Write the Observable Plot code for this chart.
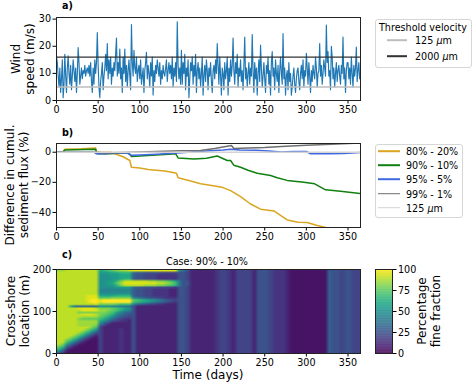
<!DOCTYPE html>
<html><head><meta charset="utf-8">
<script src="https://cdn.jsdelivr.net/npm/d3@7"></script>
<script src="https://cdn.jsdelivr.net/npm/@observablehq/plot@0.6"></script>
<style>
html,body{margin:0;padding:0;background:#fff;}
#root{position:relative;width:474px;height:383px;overflow:hidden;font-family:"DejaVu Sans",sans-serif;color:#000;}
#root svg{position:absolute;overflow:visible;}
.rot{position:absolute;transform:translate(-50%,-50%) rotate(-90deg);text-align:center;white-space:nowrap;font-size:12px;line-height:14px;}
.lg{position:absolute;border:1px solid #d6d6d6;border-radius:3px;background:#fff;box-sizing:border-box;}
.lt{position:absolute;font-size:9.6px;white-space:nowrap;transform:translateY(-50%);}
.ll{position:absolute;height:1.6px;transform:translateY(-50%);}
.ctr{position:absolute;transform:translate(-50%,-50%);white-space:nowrap;}
.pl{position:absolute;font-weight:bold;font-size:9.6px;transform:translateY(-50%);}
</style></head><body><div id="root"></div><script>
// ---------- DATA ----------
const dayTicks = [0, 50, 100, 150, 200, 250, 300, 350];
const thresholdNames = ["125 μm", "2000 μm"];
const thresholds = [5, 16];
// daily wind speed (m/s), day 0..364
const windSpeed = [
16,14,9,5,12,3,8,15,1,6,
17,9,3,12,16.5,10,6,13,4,9,
15,11,7,12,3,10,19.5,14,6,9,
12,8,11,10,13,9,11,12,10,13,
9,14,7,3,12,6,15,10,14,25,
13,5,1,7,10,14,4,9,12,17,
11,21,8,15,10,16,6,12,9,14,
11,17,23,9,14,10,19,8,12,3,
16,10,19,7,13,5,11,15,9,4,
28,14,9,18.5,12,10,16,7,11,13,
8,15,6,9,12,3,11,14,17.8,8,
13,10,5,14,9,16,2,11,7,13,
10,15,12,9,14,6,11,8,13,10,
9,12,15,7,11,14,10,13,8,16,
5,12,9,14,7,29,13,8,12,6,
18.5,6,14,10,17,4,12,9,15,1,
8,14,11,16,6,13,9,17,3,11,
14,8,12,5,10,16,2,9,13,7,
15,11,4,12,9,14,7,3,11,13,
8,15,10,21,13,6,16,9,2,12,
10,4,14,8,11,16,2,12,7,15,
9,13,23,11,6,14,10,17,5,12,
9,15,7,11,4,13,23.4,8,12,5,
10,14,6,12,9,24.3,11,3,14,8,
12,2,10,15,7,20.4,12,5,9,14,
8,3,13,10,16,6,11,2,14,18,
9,12,4,15,10,7,13,3,11,16,
10,6,24.7,8,12,2,9,11,4,14,
7,10,2,5,9,12,6,3,8,11,
12,7,4,10,13,8,15,5,11,9,
17.4,12,6,14,9,3,11,7,13,10,
8,16,12,5,10,11,21,9,13,6,
10,15,12,9,27.8,14,18,9,11,4,
20,16,8,12,5,10,14,7,11,13,
9,6,13,10,23.4,8,12,3,11,14,
14,8,12,6,16,10,5,13,9,12,
19.7,7,11,14,8
];
// difference in cumulative sediment flux (%), [day, value]
const flux8020 = [[0,0],[8,0.5],[10,2],[30,2.3],[47,2.8],[48,0.3],[50,0],[65,0],[70,-1],[80,-3],[88,-5.5],[90,-10],[100,-10.5],[110,-11.5],[120,-12],[130,-12.5],[140,-13.5],[144,-14],[146,-17],[160,-19],[173,-21],[190,-22.5],[200,-23.5],[209,-25.5],[221,-29.5],[233,-34.4],[245,-37.8],[261,-39],[269,-42],[277,-45],[290,-46.5],[301,-46.7],[312,-48.5],[323,-50],[335,-52]];
const flux9010 = [[0,0],[8,0.3],[10,1.5],[47,2],[48,-0.5],[50,-1],[65,-1],[75,-0.5],[85,-0.5],[88,-1.2],[90,-2.9],[100,-2.5],[115,-2],[130,-1.5],[143,-1],[146,-3.8],[165,-4.5],[180,-4],[193,-2.5],[197,-3.5],[205,-5.5],[209,-5.5],[213,-8.7],[221,-10],[230,-12],[241,-14],[257,-15.5],[265,-17],[277,-18.7],[297,-20],[310,-21],[323,-25],[341,-26],[365,-27.5]];
const flux955 = [[0,0],[45,0],[48,-1],[60,-1],[65,-0.5],[85,-0.5],[88,-1.5],[90,-2],[100,-1.8],[120,-1.3],[145,-0.5],[170,0.5],[200,1.5],[209,2],[220,1.5],[240,1.3],[255,0.8],[270,0.2],[285,0.5],[300,0.5],[305,-1],[330,-1],[345,-0.8],[365,-0.2]];
const flux991 = [[0,0],[50,0],[55,-0.5],[90,0],[120,0.5],[150,1],[173,1.1],[190,2.5],[200,3.5],[210,4.5],[213,2.5],[230,2.8],[250,3.1],[270,3.8],[300,4.7],[330,5.3],[365,6.2]];
const flux125 = [[0,0],[365,0]];
const fluxNames = ["80% - 20%", "90% - 10%", "95% - 5%", "99% - 1%", "125 μm"];
// percentage fine fraction: 40 rows (200 m -> 0 m, 5 m each) x 73 cols (5 days each)
// letter code: a=0, b=5, ... u=100
const heatRows = [
["rrssssssss","mnopqrrs","ttttttttttt","khfccccccdeedceeeecfffedddcbbbbbbbbbgffeffee"],
["ssssssssss","lllmmnnn","hggffffeeee","ffeccccccdeedceeeecfffedddcbbbbbbbbbgffeffee"],
["ssssssssss","kklllmmm","gffeeeddddd","ffeccccccdeedceeeecfffedddcbbbbbbbbbgffeffee"],
["ssssssssss","kkkllmmm","gffeeeddddd","ffeccccccdeedceeeecfffedddcbbbbbbbbbgffeffee"],
["ssssssssss","kkkllmnn","gffeeeddddd","ffeccccccdeedceeeecfffedddcbbbbbbbbbgffeffee"],
["ssssssssss","kkllnqss","ssssrrqqpom","iffccccccdeedceeeecfffedddcbbbbbbbbbgffeffee"],
["ssssssssss","kklmprtt","ttttttssrqo","iffccccccdeedceeeecfffedddcbbbbbbbbbgffeffee"],
["ssssssssss","kkllnqss","sssrrrqqpon","iffccccccdeedceeeecfffedddcbbbbbbbbbgffeffee"],
["ssssssssss","kkkkllll","hggfffeeeed","ffeccccccdeedceeeecfffedddcbbbbbbbbbgffeffee"],
["ssssssssss","jjjjjjjj","gffeeddddcc","ffeccccccdeedceeeecfffedddcbbbbbbbbbgffeffee"],
["ssssssssss","jjjjjjjj","gffeeddddcc","ffeccccccdeedceeeecfffedddcbbbbbbbbbgffeffee"],
["ssssssssss","kkkkkkkk","gffeeddddcc","ffeccccccdeedceeeecfffedddcbbbbbbbbbgffeffee"],
["sssssssttt","mmmmnnnn","gffeeddddcc","ffeccccccdeedceeeecfffedddcbbbbbbbbbgffeffee"],
["sssssssttt","pppqqqqq","jihgffeeddd","ffeccccccdeedceeeecfffedddcbbbbbbbbbgffeffee"],
["ssssssstuu","tuuuuuuu","ponmlkjhgfe","ffeccccccdeedceeeecfffedddcbbbbbbbbbgffeffee"],
["ssssssstuu","tuuuuuuu","onmlkihgfed","ffeccccccdeedceeeecfffedddcbbbbbbbbbgffeffee"],
["ssssssssst","qqqqpooo","jhgfeeddccc","ffeccccccdeedceeeecfffedddcbbbbbbbbbgffeffee"],
["sssmhhhhhh","kkkjjiih","fcccccccccc","ffeccccccdeedceeeecfffedddcbbbbbbbbbgffeffee"],
["ssssstttts","qqqponlk","fcccccccccc","ffeccccccdeedceeeecfffedddcbbbbbbbbbgffeffee"],
["sssssstttt","rrqpomkj","fcccccccccc","ffeccccccdeedceeeecfffedddcbbbbbbbbbgffeffee"],
["sssssqqqqq","qqpoljhg","fcccccccccc","ffeccccccdeedceeeecfffedddcbbbbbbbbbgffeffee"],
["ssssssttts","qpomjhgf","fcccccccccc","ffeccccccdeedceeeecfffedddcbbbbbbbbbgffeffee"],
["ssssssrrrr","pomkhgfe","fcccccccccc","ffeccccccdeedceeeecfffedddcbbbbbbbbbgffeffee"],
["sssssqpppp","omkhfedd","fcccccccccc","ffeccccccdeedceeeecfffedddcbbbbbbbbbgffeffee"],
["sssssrrrrr","mkhfeddc","fcccccccccc","ffeccccccdeedceeeecfffedddcbbbbbbbbbgffeffee"],
["sssssrrrrr","kgeccccc","fcccccccccc","ffeccccccdeedceeeecfffedddcbbbbbbbbbgffeffee"],
["sssssrrrrq","hecccccc","fcccccccccc","ffeccccccdeedceeeecfffedddcbbbbbbbbbgffeffee"],
["ssssssssqo","eccccccc","fcccccccccc","ffeccccccdeedceeeecfffedddcbbbbbbbbbgffeffee"],
["sssssssqol","eccccdcc","fcccccccccc","ffeccccccdeedceeeecfffedddcbbbbbbbbbgffeffee"],
["ssssssqolh","eccccdcc","fcccccccccc","ffeccccccdeedceeeecfffedddcbbbbbbbbbgffeffee"],
["sssssqolhe","eccccdcc","fcccccccccc","ffeccccccdeedceeeecfffedddcbbbbbbbbbgffeffee"],
["ssssqolhec","eccccdcc","fcccccccccc","ffeccccccdeedceeeecfffedddcbbbbbbbbbgffeffee"],
["sssqolhecb","eccccdcc","fcccccccccc","ffeccccccdeedceeeecfffedddcbbbbbbbbbgffeffee"],
["ssqolhecbb","eccccdcc","fcccccccccc","ffeccccccdeedceeeecfffedddcbbbbbbbbbgffeffee"],
["ssolhecbbb","eccccdcc","fcccccccccc","ffeccccccdeedceeeecfffedddcbbbbbbbbbgffeffee"],
["sqlhecbbbb","eccccdcc","fcccccccccc","ffeccccccdeedceeeecfffedddcbbbbbbbbbgffeffee"],
["qohecbbbbb","eccccdcc","fcccccccccc","ffeccccccdeedceeeecfffedddcbbbbbbbbbgffeffee"],
["olecbbbbbb","eccccdcc","fcccccccccc","ffeccccccdeedceeeecfffedddcbbbbbbbbbgffeffee"],
["lhcbbbbbbb","eccccdcc","fcccccccccc","ffeccccccdeedceeeecfffedddcbbbbbbbbbgffeffee"],
["hebbbbbbbb","eccccdcc","fcccccccccc","ffeccccccdeedceeeecfffedddcbbbbbbbbbgffeffee"]
];
const colorTicks = [0, 25, 50, 75, 100];

// ---------- BUILD ----------
const root = document.getElementById("root");
const NC = 73, NR = 40;
heatRows.forEach((r, i) => { if (r.join("").length !== NC) throw new Error("row " + i + " len " + r.join("").length); });
const heatValues = heatRows.flatMap(r => [...r.join("")].map(ch => (ch.charCodeAt(0) - 97) * 5));

const baseStyle = {fontFamily: "DejaVu Sans", fontSize: "9.6px", background: "transparent", color: "#000", overflow: "visible"};
const common = {width: 370, marginLeft: 56, marginRight: 10, style: baseStyle};
const xOpt = {domain: [0, 365], ticks: dayTicks, tickSize: 3.5, tickPadding: 2, label: null};
function place(svg, left, top) { svg.style.left = left + "px"; svg.style.top = top + "px"; root.appendChild(svg); }

// panel a
const windData = windSpeed.map((v, i) => ({day: i, v}));
place(Plot.plot({...common, height: 118, marginTop: 17, marginBottom: 18,
  x: xOpt,
  y: {domain: [0, 30.6], ticks: [0, 10, 20, 30], tickSize: 3.5, tickPadding: 2, label: null},
  marks: [
    Plot.line(windData, {x: "day", y: "v", stroke: "#1f77b4", strokeWidth: 1.15}),
    Plot.ruleY([thresholds[0]], {stroke: "#bdbdbd", strokeWidth: 1.4}),
    Plot.ruleY([thresholds[1]], {stroke: "#333", strokeWidth: 1.4}),
    Plot.frame({stroke: "#222"})
  ]}), 0, 0);

// panel b
const fluxSeries = [flux8020, flux9010, flux955, flux991, flux125];
const fluxColors = ["#daa520", "#108010", "#4169e1", "#6e6e6e", "#d3d3d3"];
place(Plot.plot({...common, height: 125, marginTop: 23, marginBottom: 18,
  x: xOpt,
  y: {domain: [-50, 5.8], ticks: [-40, -20, 0], tickSize: 3.5, tickPadding: 2, label: null},
  marks: [
    ...fluxSeries.map((s, i) => Plot.line(s, {x: d => d[0], y: d => d[1], stroke: fluxColors[i], strokeWidth: 1.5, clip: true})),
    Plot.frame({stroke: "#222"})
  ]}), 0, 120);

// panel c
const colorOpt = {type: "linear", scheme: "viridis", domain: [0, 100]};
let heatMark;
if (Plot.raster) {
  heatMark = Plot.raster(heatValues, {width: NC, height: NR, x1: 0, x2: 365, y1: 200, y2: 0, fill: d => d});
} else {
  const cells = heatValues.map((v, i) => ({c: i % NC, r: Math.floor(i / NC), v}));
  heatMark = Plot.rect(cells, {x1: d => d.c * 5, x2: d => d.c * 5 + 5, y1: d => 195 - d.r * 5, y2: d => 200 - d.r * 5, fill: "v"});
}
place(Plot.plot({...common, height: 121, marginTop: 19, marginBottom: 18,
  x: xOpt,
  y: {domain: [0, 200], ticks: [0, 100, 200], tickSize: 3.5, tickPadding: 2, label: null},
  color: colorOpt,
  marks: [heatMark, Plot.frame({stroke: "#222"})]}), 0, 250);

// colorbar
const cbLevels = d3.range(0, 100, 0.5);
place(Plot.plot({width: 60, height: 121, marginTop: 19, marginBottom: 18, marginLeft: 0, marginRight: 43, style: baseStyle,
  x: {domain: [0, 1], axis: null},
  y: {domain: [0, 100], ticks: colorTicks, axis: "right", tickSize: 3.5, tickPadding: 2, label: null},
  color: colorOpt,
  marks: [
    Plot.rect(cbLevels, {x1: 0, x2: 1, y1: d => d, y2: d => Math.min(100, d + 0.7), fill: d => d + 0.25}),
    Plot.frame({stroke: "#222"})
  ]}), 375, 250);

// text & legends
let html = "";
html += `<div class="pl" style="left:62px;top:5px">a)</div>`;
html += `<div class="pl" style="left:62px;top:131.5px">b)</div>`;
html += `<div class="pl" style="left:62px;top:254px">c)</div>`;
html += `<div class="rot" style="left:23px;top:58.5px">Wind<br>speed (m/s)</div>`;
html += `<div class="rot" style="left:17px;top:185px">Difference in cumul.<br>sediment flux (%)</div>`;
html += `<div class="rot" style="left:18px;top:311px">Cross-shore<br>location (m)</div>`;
html += `<div class="rot" style="left:428.5px;top:311px">Percentage<br>fine fraction</div>`;
html += `<div class="ctr" style="left:208px;top:375px;font-size:12px">Time (days)</div>`;
html += `<div class="ctr" style="left:207px;top:261px;font-size:9.6px">Case: 90% - 10%</div>`;
// legend a
html += `<div class="lg" style="left:375px;top:19px;width:97px;height:49px"></div>`;
html += `<div class="lt" style="left:379px;top:26.5px">Threshold velocity</div>`;
const thrColors = ["#bdbdbd", "#333"];
thresholdNames.forEach((n, i) => {
  const y = 40 + i * 16;
  html += `<div class="ll" style="left:387px;top:${y}px;width:20px;background:${thrColors[i]}"></div>`;
  html += `<div class="lt" style="left:415px;top:${y}px">${n.replace("μ", "<i>μ</i>")}</div>`;
});
// legend b
html += `<div class="lg" style="left:375px;top:144px;width:88px;height:74px"></div>`;
fluxNames.forEach((n, i) => {
  const y = 151 + i * 14.2;
  html += `<div class="ll" style="left:378px;top:${y}px;width:22px;background:${fluxColors[i]}"></div>`;
  html += `<div class="lt" style="left:406px;top:${y}px">${n.replace("μ", "<i>μ</i>")}</div>`;
});
root.insertAdjacentHTML("beforeend", html);
</script></body></html>
